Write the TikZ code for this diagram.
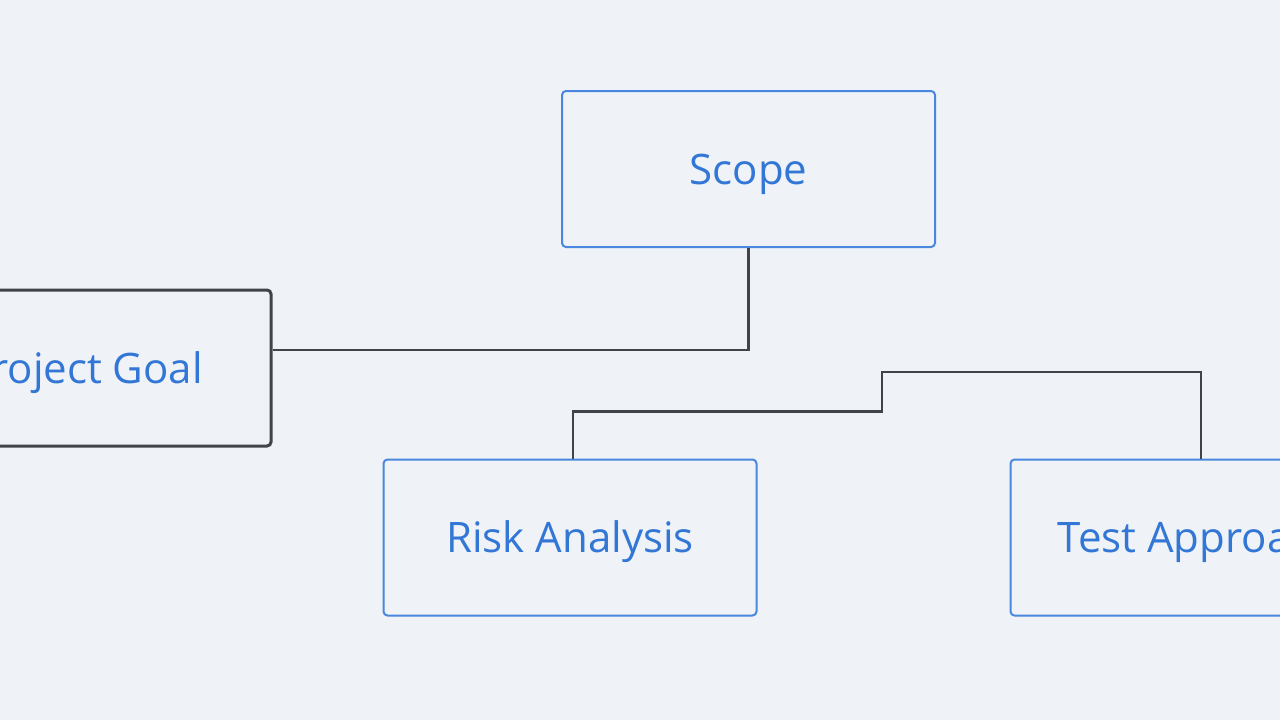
\documentclass[tikz,border=0pt]{standalone}
\usepackage{fontspec}
\setmainfont{Open Sans}
\definecolor{bg}{RGB}{239,242,246}
\definecolor{blueline}{RGB}{74,136,224}
\definecolor{bluetext}{RGB}{50,118,214}
\definecolor{darkline}{RGB}{64,68,72}
\tikzset{
  box/.style={draw=blueline, line width=2pt, rounded corners=4pt, minimum width=373pt, minimum height=156pt,
    inner sep=0pt, text=bluetext, font=\fontsize{42}{50}\selectfont, anchor=center,
    text height=34pt, text depth=4pt},
  goalbox/.style={box, draw=darkline, line width=3pt},
  conn/.style={draw=darkline, line width=2.4pt}
}
\begin{document}
\begin{tikzpicture}[x=1pt,y=-1pt]
\fill[bg] (0,0) rectangle (1280,720);
\useasboundingbox (0,0) rectangle (1280,720);
\node[box] (scope) at (748.5,169) {Scope};
\node[goalbox] (goal) at (84.5,368) {Project Goal};
\node[box] (risk) at (570,537.5) {Risk Analysis};
\node[box] (test) at (1197,537.5) {Test Approach};
\draw[conn] (scope.south) |- ([yshift=18pt]goal.east);
\draw[conn] ([xshift=3pt]risk.north) -- ++(0,-47) -| (882,372) -| ([xshift=4pt]test.north);
\end{tikzpicture}
\end{document}
